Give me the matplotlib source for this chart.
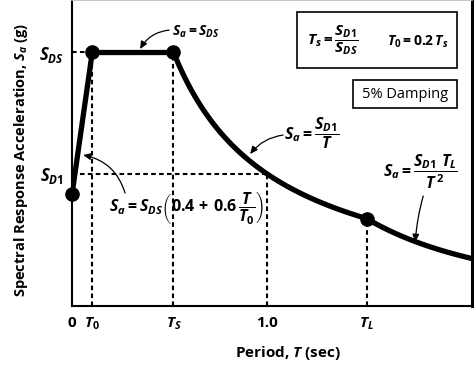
import numpy as np
import matplotlib
matplotlib.use("Agg")
from matplotlib import pyplot as plt

# design spectrum parameters (T in sec, Sa in units of SDS)
SDS = 1.0
SD1 = 0.52
Sa0 = 0.44            # value at T = 0
TS = SD1 / SDS
T0 = 0.2 * TS
TL = 1.51
T_end = 2.05

x_ticks = [0, T0, TS, 1.0, TL]
x_labels = ["0", "$T_0$", "$T_S$", "1.0", "$T_L$"]
y_ticks = [SD1, SDS]
y_labels = ["$S_{D1}$", "$S_{DS}$"]

FONT = "Open Sans"
plt.rcParams["font.family"] = [FONT, "DejaVu Sans"]
plt.rcParams["mathtext.fontset"] = "custom"
plt.rcParams["mathtext.rm"] = FONT + ":bold"
plt.rcParams["mathtext.bf"] = FONT + ":bold"
plt.rcParams["mathtext.it"] = FONT + ":italic:bold"
plt.rcParams["mathtext.sf"] = FONT + ":bold"

# branches of the spectrum
T_ramp = np.array([0, T0])
Sa_ramp = np.array([Sa0, SDS])
T_flat = np.array([T0, TS])
Sa_flat = np.array([SDS, SDS])
T_mid = np.linspace(TS, TL, 100)
Sa_mid = SD1 / T_mid
T_long = np.linspace(TL, T_end, 100)
Sa_long = SD1 * TL / T_long ** 2

fig = plt.figure(figsize=(4.74, 3.66), dpi=100)
ax = fig.add_axes([72 / 474, 60 / 366, 400 / 474, 306 / 366])
ax.set_xlim(0, T_end)
ax.set_ylim(0, 1.205)


def px(x, y):
    # pixel position in the figure -> data coords
    return (x - 72) / 195, (306 - y) / 254


dash = dict(color="black", lw=1.5, ls=(0, (2.2, 1.6)), zorder=2)
ax.plot([0, T0], [SDS, SDS], **dash)
ax.plot([0, 1.0], [SD1, SD1], **dash)
ax.plot([T0, T0], [0, SDS], **dash)
ax.plot([TS, TS], [0, SDS], **dash)
ax.plot([1.0, 1.0], [0, SD1 / 1.0], **dash)
ax.plot([TL, TL], [0, SD1 / TL], **dash)

curve = dict(color="black", lw=3.8, solid_capstyle="butt", zorder=3)
ax.plot(T_ramp, Sa_ramp, **curve)
ax.plot(T_flat, Sa_flat, **curve)
ax.plot(T_mid, Sa_mid, **curve)
ax.plot(T_long, Sa_long, **curve)
ax.plot([0, T0, TS, TL], [Sa0, SDS, SDS, SD1 / TL], "o", color="black",
        ms=9.5, zorder=4, clip_on=False)

ax.set_xticks(x_ticks)
ax.set_xticklabels(x_labels, fontsize=11, fontweight="bold")
ax.set_yticks(y_ticks)
ax.set_yticklabels(y_labels, fontsize=12, fontweight="bold")
ax.tick_params(length=0, pad=7)
ax.tick_params(axis="y", pad=6)

ax.set_xlabel("Period, $T$ (sec)", fontsize=11, fontweight="bold")
ax.xaxis.set_label_coords((288 - 72) / 400, -(344 - 306) / 306)
ax.set_ylabel("Spectral Response Acceleration, $S_a$ (g)", fontsize=10.5,
              fontweight="bold")
ax.yaxis.set_label_coords(-(72 - 30) / 400, (306 - 160) / 306)

for side in ["left", "bottom"]:
    ax.spines[side].set_linewidth(1.5)
ax.spines["right"].set_linewidth(2.2)
ax.spines["top"].set_color("#bbbbbb")
ax.spines["top"].set_linewidth(1.2)

arrow = dict(arrowstyle="-|>,head_length=0.45,head_width=0.2", color="black",
             lw=0.9, shrinkA=0, shrinkB=0)

# Sa = SDS on the plateau
ax.text(*px(196, 32), "$S_a = S_{DS}$", fontsize=10, ha="center", va="center")
ax.annotate("", xy=px(140, 49), xytext=px(169, 30),
            arrowprops=dict(connectionstyle="arc3,rad=0.25", **arrow))

# ramp
ax.text(*px(187, 208), r"$S_a = S_{DS}\left(0.4\,+\,0.6\,\dfrac{T}{T_0}\right)$",
        fontsize=11.5, ha="center", va="center")
ax.annotate("", xy=px(83, 155), xytext=px(125, 193),
            arrowprops=dict(connectionstyle="arc3,rad=0.3", **arrow))

# SD1 / T
ax.text(*px(312, 133), r"$S_a = \dfrac{S_{D1}}{T}$", fontsize=11.5,
        ha="center", va="center")
ax.annotate("", xy=px(250, 154), xytext=px(283, 135),
            arrowprops=dict(connectionstyle="arc3,rad=0.2", **arrow))

# SD1 TL / T^2
ax.text(*px(420, 172), r"$S_a = \dfrac{S_{D1}\ T_L}{T^{\,2}}$", fontsize=11.5,
        ha="center", va="center")
ax.annotate("", xy=px(415, 242), xytext=px(423, 196),
            arrowprops=dict(connectionstyle="arc3,rad=0.05", **arrow))

# boxes
ax.add_patch(plt.Rectangle((0.5625, 0.778), 0.4, 0.183, transform=ax.transAxes,
                           fill=False, lw=1.2, ec="black"))
ax.text(*px(333, 40), r"$T_s = \dfrac{S_{D1}}{S_{DS}}$", fontsize=11,
        ha="center", va="center")
ax.text(*px(418, 42), r"$T_0 = 0.2\,T_s$", fontsize=10, ha="center", va="center")

ax.add_patch(plt.Rectangle((0.7025, 0.647), 0.26, 0.092, transform=ax.transAxes,
                           fill=False, lw=1.2, ec="black"))
ax.text(*px(405, 94), "5% Damping", fontsize=10.5, ha="center", va="center")

fig.savefig("out.png", dpi=100)
